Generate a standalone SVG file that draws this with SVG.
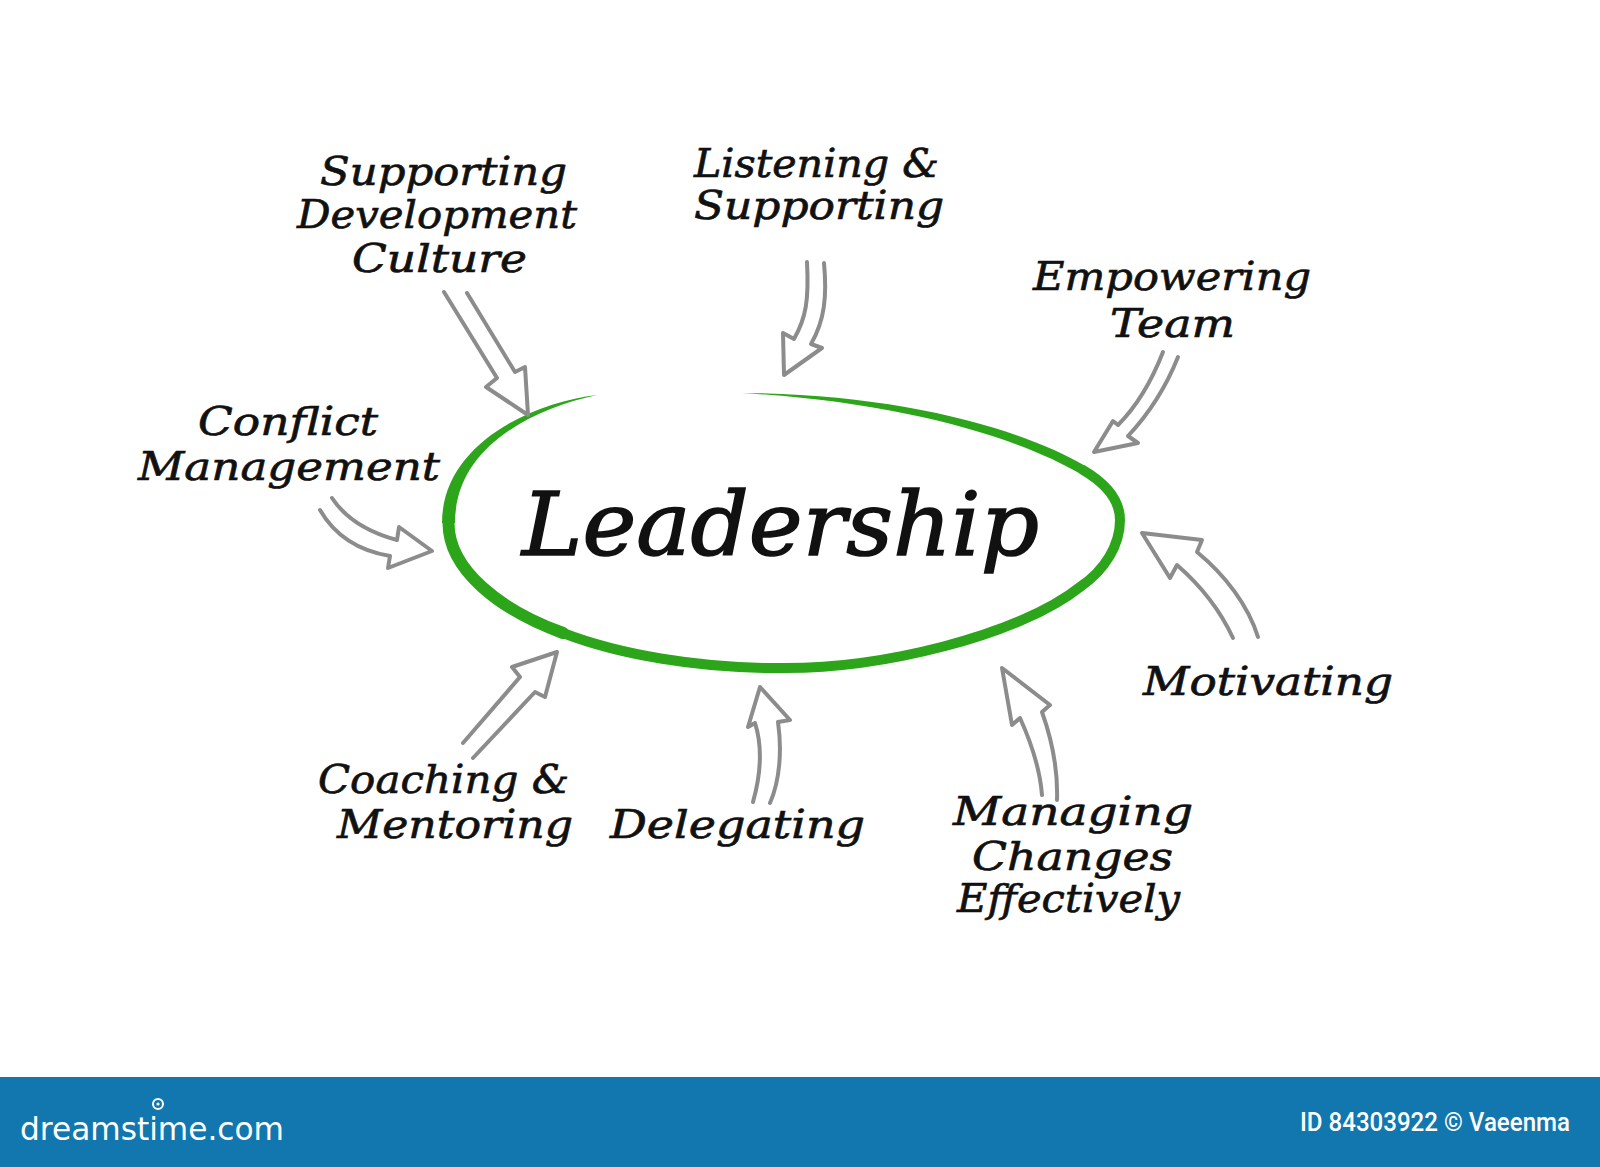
<svg xmlns="http://www.w3.org/2000/svg" width="1600" height="1167" viewBox="0 0 1600 1167">
<style>
.lbl{font-family:"DejaVu Serif","Liberation Serif",serif;font-style:italic;font-size:40px;fill:#111;stroke:#111;stroke-width:0.7px;}
.big{font-size:88px;stroke-width:1.6px;}
.arr{fill:none;stroke:#8c8c8c;stroke-width:4;stroke-linejoin:round;stroke-linecap:round;}
.ring{fill:none;stroke:#2ca51a;stroke-width:10;stroke-linecap:round;stroke-linejoin:round;}
.ringf{fill:#2ca51a;}
</style>
<rect width="1600" height="1167" fill="#ffffff"/>

<g id="leadership">
<path class="ringf" d="M597,395 C530,403 442,445 442,523 L455,523 C455,447 532,409 597,395 Z"/>
<path class="ring" d="M563,633 C620,655 700,668 775,668 C880,670 1020,635 1080,587 C1105,570 1120,545 1120,520 C1120,500 1105,483 1083,470"/>
<path class="ring" style="stroke-width:12" d="M448.5,523 C448.5,570 500,610 563,633"/>
<path class="ringf" d="M1080.7,474 C1018,437 900,402 742,393 C900,394 1022,429 1085.3,466 Z"/>
<text class="lbl big" x="522" y="555" textLength="517" lengthAdjust="spacingAndGlyphs">Leadership</text>
</g>

<g id="connectors">
<path class="arr" d="M444,292 L497,378 L486,387 L528,415 L525,367 L515,372 L467,293"/>
<path class="arr" d="M807,262 C809,300 806,318 794,339 L783,333 L784,375 L822,348 L811,344 C825,320 827,295 824,263"/>
<path class="arr" d="M1163,352 Q1145,398 1118,425 L1113,421 L1094,452 L1138,443 L1128,436 Q1160,402 1178,357"/>
<path class="arr" d="M332,498 Q352,528 397,540 L399,527 L432,551 L388,568 L390,556 Q342,548 320,510"/>
<path class="arr" d="M463,743 L520,677 L512,667 L557,652 L545,697 L535,692 L473,758"/>
<path class="arr" d="M753,802 C762,770 762,745 755,723 L748,727 L760,687 L790,720 L778,722 C782,750 780,780 770,803"/>
<path class="arr" d="M1042,795 C1040,770 1030,740 1020,718 L1012,725 L1002,668 L1050,705 L1042,712 C1052,740 1058,770 1057,800"/>
<path class="arr" d="M1233,638 C1220,610 1200,585 1177,565 L1170,578 L1142,533 L1202,540 L1197,552 C1225,575 1248,605 1258,637"/>
</g>

<g id="supporting-development-culture">
<text class="lbl" x="320" y="185" textLength="247" lengthAdjust="spacingAndGlyphs">Supporting</text>
<text class="lbl" x="297" y="228" textLength="280" lengthAdjust="spacingAndGlyphs">Development</text>
<text class="lbl" x="352" y="272" textLength="175" lengthAdjust="spacingAndGlyphs">Culture</text>
</g>
<g id="listening-supporting">
<text class="lbl" x="694" y="177" textLength="245" lengthAdjust="spacingAndGlyphs">Listening &amp;</text>
<text class="lbl" x="694" y="219" textLength="250" lengthAdjust="spacingAndGlyphs">Supporting</text>
</g>
<g id="empowering-team">
<text class="lbl" x="1033" y="290" textLength="278" lengthAdjust="spacingAndGlyphs">Empowering</text>
<text class="lbl" x="1110" y="337" textLength="125" lengthAdjust="spacingAndGlyphs">Team</text>
</g>
<g id="conflict-management">
<text class="lbl" x="198" y="435" textLength="180" lengthAdjust="spacingAndGlyphs">Conflict</text>
<text class="lbl" x="138" y="480" textLength="302" lengthAdjust="spacingAndGlyphs">Management</text>
</g>
<g id="motivating">
<text class="lbl" x="1143" y="695" textLength="250" lengthAdjust="spacingAndGlyphs">Motivating</text>
</g>
<g id="coaching-mentoring">
<text class="lbl" x="318" y="793" textLength="251" lengthAdjust="spacingAndGlyphs">Coaching &amp;</text>
<text class="lbl" x="337" y="838" textLength="236" lengthAdjust="spacingAndGlyphs">Mentoring</text>
</g>
<g id="delegating">
<text class="lbl" x="610" y="838" textLength="255" lengthAdjust="spacingAndGlyphs">Delegating</text>
</g>
<g id="managing-changes">
<text class="lbl" x="953" y="825" textLength="240" lengthAdjust="spacingAndGlyphs">Managing</text>
<text class="lbl" x="972" y="870" textLength="201" lengthAdjust="spacingAndGlyphs">Changes</text>
<text class="lbl" x="957" y="912" textLength="223" lengthAdjust="spacingAndGlyphs">Effectively</text>
</g>

<g id="footer">
<rect x="0" y="1077" width="1600" height="90" fill="#1277ae"/>
<circle cx="158" cy="1104" r="5" fill="none" stroke="#ffffff" stroke-width="2"/>
<circle cx="158" cy="1104" r="1.6" fill="#ffffff"/>
<text x="20" y="1140" font-family="DejaVu Sans, sans-serif" font-size="32" fill="#ffffff" textLength="264" lengthAdjust="spacingAndGlyphs">dreamstime.com</text>
<text x="1300" y="1131" font-family="Roboto, sans-serif" font-size="25" font-weight="500" fill="#ffffff" textLength="270" lengthAdjust="spacingAndGlyphs">ID 84303922 © Vaeenma</text>
</g>
</svg>
